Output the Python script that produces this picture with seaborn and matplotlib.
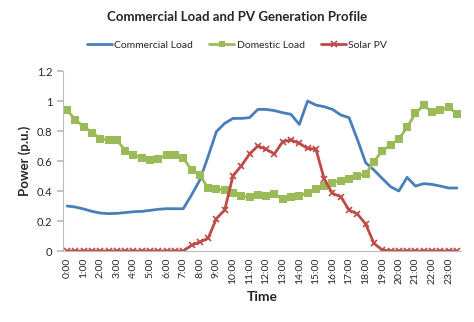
import matplotlib
matplotlib.use("Agg")
import matplotlib.pyplot as plt
import seaborn as sns
import numpy as np
import pandas as pd

hours = [f"{h}:00" for h in range(24)]

commercial = [0.30, 0.293, 0.28, 0.264, 0.253, 0.249, 0.251, 0.256, 0.262, 0.264,
              0.271, 0.278, 0.282, 0.282, 0.282, 0.373, 0.473, 0.63, 0.796, 0.851,
              0.884, 0.884, 0.889, 0.944, 0.944, 0.936, 0.922, 0.911, 0.844, 1.0,
              0.973, 0.962, 0.944, 0.907, 0.889, 0.744, 0.589, 0.54, 0.484, 0.429,
              0.40, 0.491, 0.433, 0.449, 0.444, 0.433, 0.42, 0.42]
domestic = [0.94, 0.873, 0.83, 0.79, 0.75, 0.738, 0.74, 0.67, 0.64, 0.62,
            0.61, 0.615, 0.64, 0.642, 0.62, 0.54, 0.507, 0.418, 0.415, 0.405,
            0.39, 0.364, 0.362, 0.371, 0.367, 0.382, 0.344, 0.36, 0.367, 0.389,
            0.411, 0.433, 0.456, 0.469, 0.48, 0.502, 0.511, 0.596, 0.667, 0.707,
            0.747, 0.824, 0.918, 0.971, 0.927, 0.938, 0.958, 0.916]
solar = [0.0] * 15 + [0.038, 0.06, 0.084, 0.216, 0.273, 0.502, 0.567, 0.647, 0.70,
                      0.678, 0.647, 0.729, 0.74, 0.718, 0.684, 0.68, 0.48, 0.384,
                      0.362, 0.273, 0.247, 0.18, 0.051, 0.007] + [0.0] * 9

sns.set_theme(style="white")
plt.rcParams['font.family'] = ['Lato', 'DejaVu Sans']

idx = np.arange(len(commercial))
df = pd.DataFrame({"t": idx, "Commercial Load": commercial,
                   "Domestic Load": domestic, "Solar PV": solar})

fig = plt.figure(figsize=(4.74, 3.22), dpi=100)
ax = fig.add_axes([63/474, 1-251/322, (461-63)/474, 180/322])

blue, green, red = "#4A7EBB", "#9BBB59", "#BE4B48"
sns.lineplot(data=df, x="t", y="Commercial Load", ax=ax, color=blue, lw=2.0,
             label="Commercial Load")
sns.lineplot(data=df, x="t", y="Domestic Load", ax=ax, color=green, lw=2.0,
             marker="s", markersize=5.5, markeredgewidth=0, label="Domestic Load")
sns.lineplot(data=df, x="t", y="Solar PV", ax=ax, color=red, lw=2.0,
             marker="x", markersize=5, markeredgewidth=1.2, markeredgecolor=red,
             label="Solar PV")

ax.set_xlim(-0.5, 47.5)
ax.set_ylim(0, 1.2)
ax.set_yticks([0, 0.2, 0.4, 0.6, 0.8, 1.0, 1.2])
ax.set_yticklabels(["0", "0.2", "0.4", "0.6", "0.8", "1", "1.2"], fontsize=8)
ax.set_xticks(np.arange(0, 48, 2))
ax.set_xticklabels(hours, rotation=90, fontsize=7.5)
ax.set_xticks(np.arange(-0.5, 48, 1), minor=True)
ax.tick_params(axis="x", which="major", length=0, pad=5)
ax.tick_params(axis="x", which="minor", length=4, color="#BBBBBB", direction="inout")
ax.tick_params(axis="y", which="major", length=4, color="#BBBBBB", direction="out", left=True)
for s in ["top", "right"]:
    ax.spines[s].set_visible(False)
for s in ["left", "bottom"]:
    ax.spines[s].set_color("#BBBBBB")
    ax.spines[s].set_linewidth(0.8)

ax.set_xlabel("Time", fontsize=10, fontweight="bold", labelpad=5)
ax.set_ylabel("Power (p.u.)", fontsize=9.5, fontweight="bold", labelpad=4)

fig.text(0.5, 1-17/322, "Commercial Load and PV Generation Profile",
         ha="center", va="center", fontsize=9.5, fontweight="bold")
ax.legend(loc="center", bbox_to_anchor=(0.5, 1-45/322), bbox_transform=fig.transFigure,
          ncol=3, frameon=False, fontsize=7.5, handlelength=2.4, handletextpad=0.2,
          columnspacing=1.6, markerscale=0.8)

fig.savefig("out.png", dpi=100)
